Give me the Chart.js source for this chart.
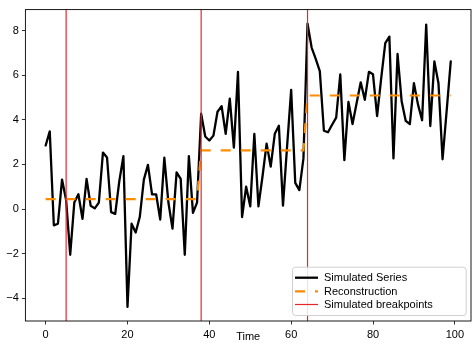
<!DOCTYPE html>
<html><head><meta charset="utf-8">
<script src="https://cdn.jsdelivr.net/npm/chart.js@4.4.0/dist/chart.umd.min.js"></script>
<style>html,body{margin:0;padding:0;background:#fff;}#wrap{width:474px;height:355px;position:relative;}</style>
</head><body><div id="wrap"><canvas id="c" width="474" height="355"></canvas></div>
<script>
const time = [0,1,2,3,4,5,6,7,8,9,10,11,12,13,14,15,16,17,18,19,20,21,22,23,24,25,26,27,28,29,30,31,32,33,34,35,36,37,38,39,40,41,42,43,44,45,46,47,48,49,50,51,52,53,54,55,56,57,58,59,60,61,62,63,64,65,66,67,68,69,70,71,72,73,74,75,76,77,78,79,80,81,82,83,84,85,86,87,88,89,90,91,92,93,94,95,96,97,98,99];
const simulated = [
2.85, 3.48, -0.73, -0.66, 1.32, 0.40, -2.05, 0.29, 0.66, -0.44,
1.35, 0.15, 0.03, 0.29, 2.53, 2.31, -0.14, -0.22, 1.25, 2.37,
-4.39, -0.66, -1.05, -0.36, 1.32, 1.98, 0.66, 0.66, -0.47, 2.30,
0.29, -0.88, 1.64, 1.35, -2.05, 2.37, -0.17, 0.29, 4.27, 3.25,
3.07, 3.29, 4.36, 4.61, 3.37, 4.95, 2.75, 6.15, -0.36, 1.00,
0.12, 3.37, 0.12, 1.47, 2.93, 1.90, 3.37, 3.73, 0.15, 2.80,
5.34, 1.17, 0.85, 2.27, 8.31, 7.24, 6.73, 6.18, 3.51, 3.44,
3.78, 4.10, 6.03, 2.19, 4.80, 3.81, 4.75, 5.68, 4.90, 6.15,
6.04, 4.17, 5.86, 7.44, 7.73, 2.27, 6.95, 4.83, 3.95, 3.81,
5.64, 4.68, 3.98, 8.27, 3.72, 6.62, 5.64, 2.23, 4.40, 6.62
];
const reconstruction = [
0.44,0.44,0.44,0.44,0.44,0.44,0.44,0.44,0.44,0.44,
0.44,0.44,0.44,0.44,0.44,0.44,0.44,0.44,0.44,0.44,
0.44,0.44,0.44,0.44,0.44,0.44,0.44,0.44,0.44,0.44,
0.44,0.44,0.44,0.44,0.44,0.44,0.44,0.44,2.63,2.63,
2.63,2.63,2.63,2.63,2.63,2.63,2.63,2.63,2.63,2.63,
2.63,2.63,2.63,2.63,2.63,2.63,2.63,2.63,2.63,2.63,
2.63,2.63,2.63,2.63,5.09,5.09,5.09,5.09,5.09,5.09,
5.09,5.09,5.09,5.09,5.09,5.09,5.09,5.09,5.09,5.09,
5.09,5.09,5.09,5.09,5.09,5.09,5.09,5.09,5.09,5.09,
5.09,5.09,5.09,5.09,5.09,5.09,5.09,5.09,5.09,5.09
];
const breakpoints = [5, 38, 64];
const seriesLabels = ['Simulated Series', 'Reconstruction', 'Simulated breakpoints'];
const xTicks = [0, 20, 40, 60, 80, 100];
const xTickLabels = ['0', '20', '40', '60', '80', '100'];
const yTicks = [-4, -2, 0, 2, 4, 6, 8];
const yTickLabels = ['\u22124', '\u22122', '0', '2', '4', '6', '8'];
const xAxisTitle = 'Time';

const Y_MIN = -5.02, Y_MAX = 8.94;
const FONT = '"Liberation Sans", Arial, sans-serif';
Chart.defaults.font.family = FONT;
Chart.defaults.font.size = 11;
Chart.defaults.color = '#000';

const framePlugin = {
  id: 'frame',
  afterDatasetsDraw(chart) {
    const a = chart.chartArea, c = chart.ctx;
    c.save();
    c.strokeStyle = '#000';
    c.lineWidth = 0.9;
    c.strokeRect(a.left, a.top, a.right - a.left, a.bottom - a.top);
    c.restore();
  }
};

const legendPlugin = {
  id: 'boxLegend',
  afterDraw(chart) {
    const a = chart.chartArea, c = chart.ctx;
    const w = 173.7, h = 48.3;
    const x = a.right - 5.3 - w, y = a.bottom - 6 - h;
    c.save();
    c.beginPath();
    c.roundRect(x + 0.5, y + 0.5, w, h, 3);
    c.fillStyle = 'rgba(255,255,255,0.85)';
    c.fill();
    c.strokeStyle = '#d0d0d0';
    c.lineWidth = 1;
    c.stroke();
    const rows = [11, 24.6, 37.8];
    chart.data.datasets.forEach((ds, i) => {
      const yy = y + rows[i];
      c.beginPath();
      c.moveTo(x + 3, yy);
      c.lineTo(x + 26, yy);
      c.strokeStyle = ds.borderColor;
      c.lineWidth = ds.borderWidth;
      c.setLineDash(ds.borderDash || []);
      c.stroke();
      c.setLineDash([]);
      c.fillStyle = '#000';
      c.font = '11px ' + FONT;
      c.textBaseline = 'middle';
      c.textAlign = 'left';
      c.fillText(ds.label, x + 32, yy + 0.5);
    });
    c.restore();
  }
};

new Chart(document.getElementById('c'), {
  type: 'line',
  data: {
    datasets: [
      { label: seriesLabels[0], data: time.map((t, i) => ({x: t, y: simulated[i]})),
        borderColor: '#000000', borderWidth: 2.3, pointRadius: 0, tension: 0,
        borderJoinStyle: 'round', borderCapStyle: 'round', order: 3 },
      { label: seriesLabels[1], data: time.map((t, i) => ({x: t, y: reconstruction[i]})),
        borderColor: '#ff8c00', borderWidth: 2.2, borderDash: [10, 10], pointRadius: 0, tension: 0, order: 2 },
      { label: seriesLabels[2], data: breakpoints.flatMap(b => [{x: b, y: Y_MIN}, {x: b, y: Y_MAX}, {x: b, y: null}]),
        borderColor: '#e8262a', borderWidth: 1.2, pointRadius: 0, spanGaps: false, order: 1 }
    ]
  },
  options: {
    responsive: false, animation: false,
    layout: { padding: { top: 3, right: 3, left: 0, bottom: 0 } },
    plugins: { legend: { display: false }, tooltip: { enabled: false } },
    scales: {
      x: {
        type: 'linear', min: -4.95, max: 103.95,
        afterBuildTicks: s => { s.ticks = xTicks.map(v => ({value: v})); },
        afterFit: s => { s.height = 34; },
        ticks: { padding: 3.5, maxRotation: 0, autoSkip: false, color: '#000',
          callback: v => xTickLabels[xTicks.indexOf(v)] },
        grid: { drawOnChartArea: false, tickLength: 3.5, color: '#000', lineWidth: 0.8 },
        border: { display: false },
        title: { display: true, text: xAxisTitle, color: '#000', font: { size: 11 }, padding: { top: 0, bottom: 11 } }
      },
      y: {
        type: 'linear', min: Y_MIN, max: Y_MAX,
        afterBuildTicks: s => { s.ticks = yTicks.map(v => ({value: v})); },
        afterFit: s => { s.width = 25.4; },
        ticks: { padding: 3, autoSkip: false, color: '#000',
          callback: v => yTickLabels[yTicks.indexOf(v)] },
        grid: { drawOnChartArea: false, tickLength: 3.5, color: '#000', lineWidth: 0.8 },
        border: { display: false }
      }
    }
  },
  plugins: [framePlugin, legendPlugin]
});
</script></body></html>
